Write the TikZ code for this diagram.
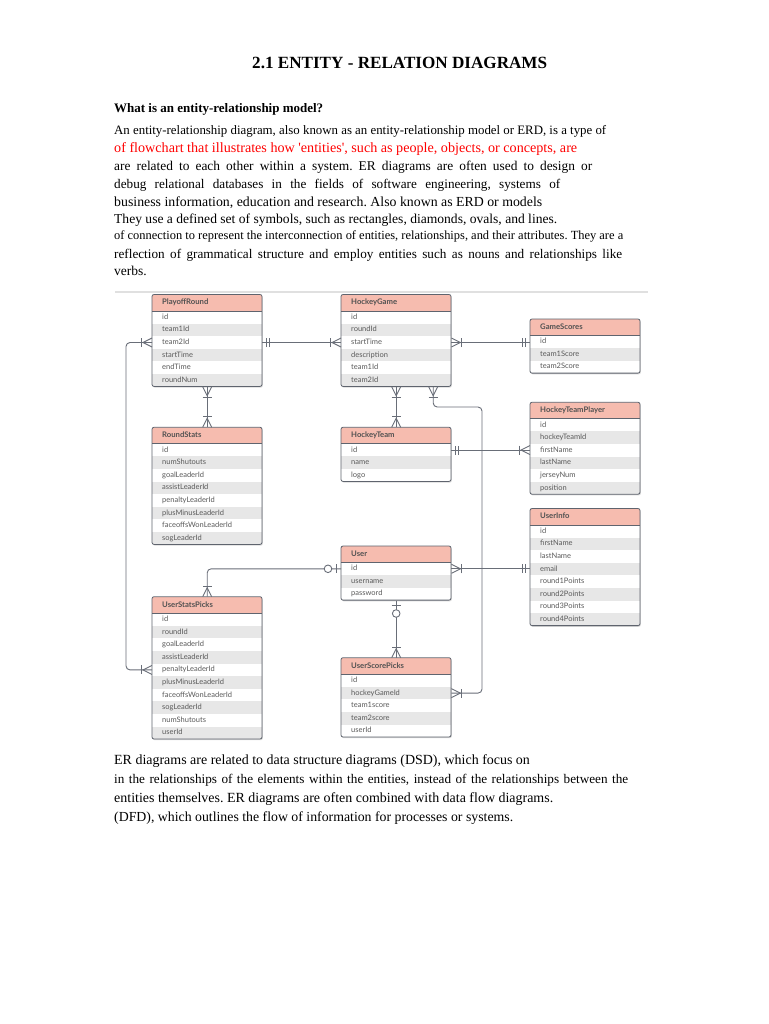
\documentclass[tikz,border=0pt]{standalone}
\usepackage{fontspec}
\setmainfont{Liberation Serif}[Ligatures=TeXOff]
\newfontfamily\erdfont{Lato}
\definecolor{hdr}{RGB}{246,188,175}
\definecolor{rowgrey}{RGB}{231,231,231}
\definecolor{bord}{RGB}{95,100,110}
\definecolor{conncol}{RGB}{105,110,120}
\definecolor{erdtext}{RGB}{90,90,90}
\frenchspacing
\newcommand\fitline[3]{%
  \setbox0=\hbox{\fontsize{#2}{#2}\selectfont #3}%
  \ifdim\wd0>#1\relax
    \pgfmathsetmacro\fs{#2*#1/\the\wd0}%
    \xdef\lastfs{\fs}%
    \hbox{\fontsize{\fs}{\fs}\selectfont #3}%
  \else
    \xdef\lastfs{#2}%
    \hbox to #1{\fontsize{#2}{#2}\selectfont #3}%
  \fi}
\tikzset{
  txt/.style={anchor=base west, inner sep=0pt},
  tbl/.style={draw=none, inner sep=0pt, minimum width=110pt, anchor=north west},
  rowbox/.style={anchor=north west, inner xsep=10pt, inner ysep=0pt, text width=90pt,
    minimum height=12.6pt, align=left, font=\erdfont\fontsize{7.5}{8}\selectfont,
    text=erdtext, text height=5.4pt, text depth=1.6pt},
  hdrtxt/.style={anchor=north west, inner xsep=10pt, inner ysep=0pt, minimum height=16.3pt,
    font=\erdfont\bfseries\fontsize{7.7}{8}\selectfont, text=black!68, text height=5.5pt, text depth=1.6pt},
  conn/.style={draw=conncol, line width=0.9pt},
  pics/many/.style={code={\draw[conn] (0,4.5) -- (9,0) -- (0,-4.5); \draw[conn] (10.5,4.5) -- (10.5,-4.5);}},
  pics/one/.style={code={\draw[conn] (4.5,4.5) -- (4.5,-4.5); \draw[conn] (7.5,4.5) -- (7.5,-4.5);}},
  pics/zeroone/.style={code={\draw[conn] (5,4.5) -- (5,-4.5); \draw[conn, fill=white] (13,0) circle (3.8pt);}},
}
\newcommand\erdtable[5]{%
  \foreach \t [count=\c] in {#5} {\xdef\nrows{\c}}%
  \pgfmathsetmacro\bh{16.3+\nrows*12.6}%
  \fill[black!15, rounded corners=2pt] (#2+0.8,#3+1.2) rectangle ++(110,\bh);
  \node[tbl, minimum height=\bh pt] (#1) at (#2,#3) {};
  \begin{scope}
    \clip[rounded corners=2pt] (#2,#3) rectangle ++(110,\bh);
    \fill[hdr] (#2,#3) rectangle ++(110,16.3);
    \foreach \t [count=\c] in {#5} {
      \pgfmathsetmacro\ry{#3+16.3+(\c-1)*12.6}
      \ifodd\c\relax\def\rc{white}\else\def\rc{rowgrey}\fi
      \node[rowbox, fill=\rc] (#1-r\c) at (#2,\ry) {\t};
    }
  \end{scope}
  \node[hdrtxt] (#1-h) at (#2,#3) {#4};
  \draw[bord, line width=0.5pt] (#2,#3+16.3) -- ++(110,0);
  \draw[bord, line width=0.8pt, rounded corners=2pt] (#2,#3) rectangle ++(110,\bh);
}
\begin{document}
\begin{tikzpicture}[x=1pt, y=-1pt]
\useasboundingbox (0,0) rectangle (768,1024);
\fill[white] (0,0) rectangle (768,1024);

% ---------- text above ----------
\node[txt] (title) at (252,69) {\bfseries\fitline{295pt}{19}{2.1 ENTITY - RELATION DIAGRAMS}};
\node[txt] (q) at (114,112.5) {\bfseries\fitline{209pt}{14}{What is an entity-relationship model?}};
\node[txt] (p1) at (114,134.5) {\fitline{492pt}{14.5}{An entity-relationship diagram, also known as an entity-relationship model or ERD, is a type of}};
\node[txt, text=red] (p2) at (114,153) {\fitline{463pt}{15}{of flowchart that illustrates how 'entities', such as people, objects, or concepts, are}};
\node[txt] (p3) at (114,171) {\fitline{478pt}{13.4}{are related to each other within a system. ER diagrams are often used to design or}};
\node[txt] (p4) at (114,189) {\fitline{446pt}{13.2}{debug relational databases in the fields of software engineering, systems of}};
\node[txt] (p5) at (114,207) {\fitline{428pt}{14.5}{business information, education and research. Also known as ERD or models}};
\node[txt] (p6) at (114,224) {\fitline{443pt}{14.5}{They use a defined set of symbols, such as rectangles, diamonds, ovals, and lines.}};
\node[txt] (p7) at (114,240) {\fitline{509pt}{14}{of connection to represent the interconnection of entities, relationships, and their attributes. They are a}};
\node[txt] (p8) at (114,258.5) {\fitline{508pt}{13.2}{reflection of grammatical structure and employ entities such as nouns and relationships like}};
\node[txt] (p9) at (114,275.5) {\fontsize{13.5}{13.5}\selectfont verbs.};

% ---------- diagram ----------
\draw[black!12, line width=2pt] (115,291.5) -- (648,291.5);

\erdtable{PR}{152}{294.5}{PlayoffRound}{id,team1Id,team2Id,startTime,endTime,roundNum}
\erdtable{HG}{341}{294.5}{HockeyGame}{id,roundId,startTime,description,team1Id,team2Id}
\erdtable{GS}{530}{319}{GameScores}{id,team1Score,team2Score}
\erdtable{RS}{152}{427.3}{RoundStats}{id,numShutouts,goalLeaderId,assistLeaderId,penaltyLeaderId,plusMinusLeaderId,faceoffsWonLeaderId,sogLeaderId}
\erdtable{HT}{341}{427.3}{HockeyTeam}{id,name,logo}
\erdtable{HTP}{530}{402.3}{HockeyTeamPlayer}{id,hockeyTeamId,firstName,lastName,jerseyNum,position}
\erdtable{UI}{530}{508.5}{UserInfo}{id,firstName,lastName,email,round1Points,round2Points,round3Points,round4Points}
\erdtable{U}{341}{546}{User}{id,username,password}
\erdtable{USTP}{152}{596.7}{UserStatsPicks}{id,roundId,goalLeaderId,assistLeaderId,penaltyLeaderId,plusMinusLeaderId,faceoffsWonLeaderId,sogLeaderId,numShutouts,userId}
\erdtable{USP}{341}{657.7}{UserScorePicks}{id,hockeyGameId,team1score,team2score,userId}

\coordinate (c1) at (482,407);
\coordinate (lp) at (126,500);

% connectors
\draw[conn] (PR-r3.east) -- (PR-r3.east -| HG.west);
\draw[conn] (HG-r3.east) -- (HG-r3.east -| GS.west);
\draw[conn] (PR.south) -- (RS.north);
\draw[conn] (HG.south) -- (HT.north);
\draw[conn, rounded corners=4pt] ([xshift=37pt]HG.south) |- (c1) |- (USP-r2.east);
\draw[conn] (HT-r1.east) -- (HT-r1.east -| HTP.west);
\draw[conn] (U-r1.east) -- (U-r1.east -| UI.west);
\draw[conn, rounded corners=4pt] (U-r1.west) -| (USTP.north);
\draw[conn] (U.south) -- (USP.north);
\draw[conn, rounded corners=4pt] (PR-r3.west) -| (lp) |- (USTP-r5.west);

% end marks
\pic at (PR-r3.east) {one};
\pic[rotate=180] at (PR-r3.east -| HG.west) {many};
\pic at (HG-r3.east) {many};
\pic[rotate=180] at (HG-r3.east -| GS.west) {one};
\pic[rotate=-90] at (PR.south) {many};
\pic[rotate=90] at (RS.north) {many};
\pic[rotate=-90] at (HG.south) {many};
\pic[rotate=90] at (HT.north) {many};
\pic[rotate=-90] at ([xshift=37pt]HG.south) {many};
\pic at (USP-r2.east) {many};
\pic at (HT-r1.east) {one};
\pic[rotate=180] at (HT-r1.east -| HTP.west) {many};
\pic at (U-r1.east) {many};
\pic[rotate=180] at (U-r1.east -| UI.west) {one};
\pic[rotate=180] at (U-r1.west) {zeroone};
\pic[rotate=90] at (USTP.north) {many};
\pic[rotate=-90] at (U.south) {zeroone};
\pic[rotate=90] at (USP.north) {many};
\pic[rotate=180] at (PR-r3.west) {many};
\pic[rotate=180] at (USTP-r5.west) {many};

% ---------- text below ----------
\node[txt] (b3) at (114,802) {\fitline{439pt}{14.5}{entities themselves. ER diagrams are often combined with data flow diagrams.}};
\node[txt] (b1) at (114,764) {\fontsize{\lastfs}{\lastfs}\selectfont ER diagrams are related to data structure diagrams (DSD), which focus on};
\node[txt] (b2) at (114,783.5) {\fitline{514pt}{13.2}{in the relationships of the elements within the entities, instead of the relationships between the}};
\node[txt] (b4) at (114,821) {\fitline{399pt}{14.5}{(DFD), which outlines the flow of information for processes or systems.}};
\end{tikzpicture}
\end{document}
